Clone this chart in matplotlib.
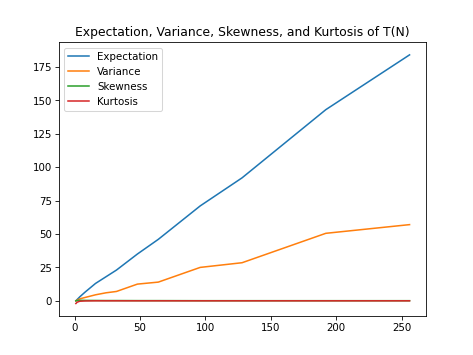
import matplotlib
matplotlib.use("Agg")
import matplotlib.pyplot as plt

# N values and moments of T(N)
N = [1, 2, 4, 8, 16, 24, 32, 48, 64, 96, 128, 192, 256]
expectation = [0, 1, 3, 6.5, 13, 18, 23, 35, 46, 71, 92, 143, 184]
variance = [0, 0.5, 1.5, 2.5, 4.5, 6, 7, 12.5, 14, 25, 28.5, 50.5, 57]
skewness = [0, 0.3, 0.4, 0.3, 0.25, 0.2, 0.2, 0.15, 0.15, 0.1, 0.1, 0.1, 0.1]
kurtosis = [-2, -1, -0.3, -0.1, 0, 0, 0, 0, 0, 0, 0, 0, 0]

fig, ax = plt.subplots(figsize=(6.4, 4.8), dpi=74)

ax.plot(N, expectation, label="Expectation")
ax.plot(N, variance, label="Variance")
ax.plot(N, skewness, label="Skewness")
ax.plot(N, kurtosis, label="Kurtosis")

ax.set_title("Expectation, Variance, Skewness, and Kurtosis of T(N)")
ax.legend(loc="upper left")

fig.savefig("out.png", dpi=74)
